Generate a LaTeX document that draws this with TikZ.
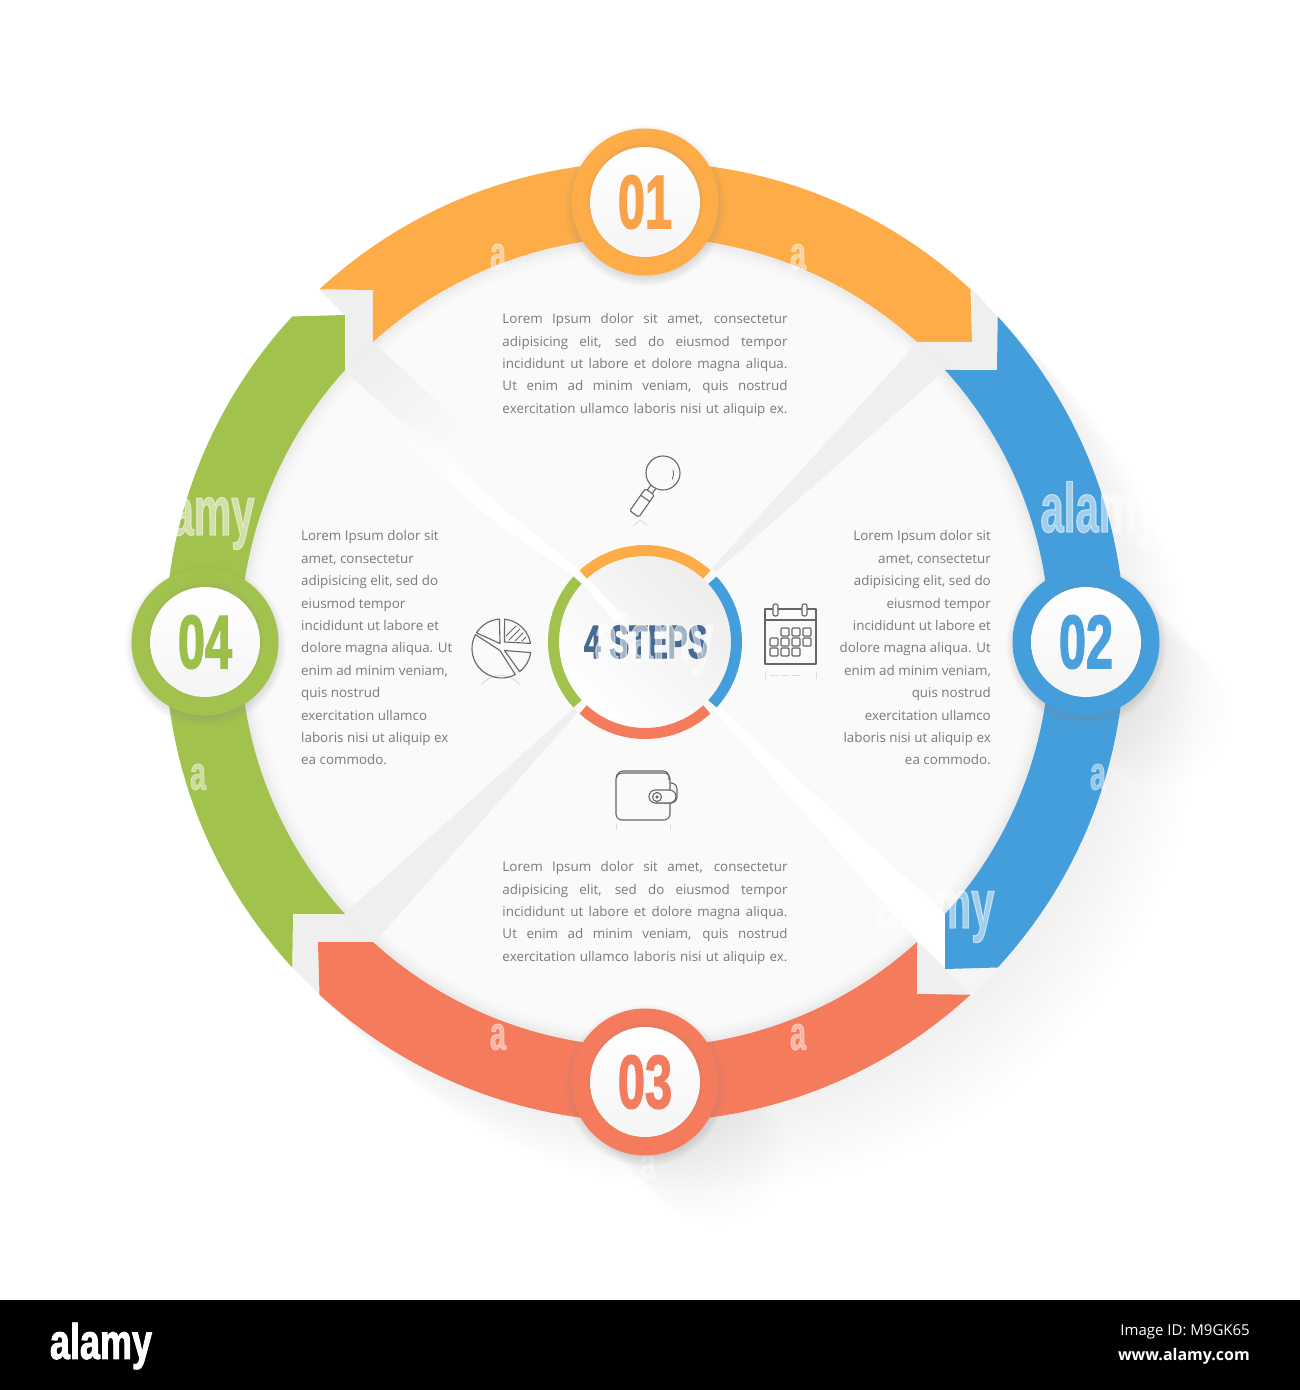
\documentclass[tikz,border=0pt]{standalone}
\usepackage{fontspec}
\setmainfont{Open Sans}
\newfontfamily\stepfont[FakeStretch=0.64,FakeBold=1.6]{Liberation Sans}
\newfontfamily\markfont[FakeStretch=0.6,FakeBold=1.6]{Liberation Sans}
\newfontfamily\logofont[FakeStretch=0.72,FakeBold=1.8]{Liberation Sans}
\usetikzlibrary{shadows,fadings}
\definecolor{stepOrange}{HTML}{FDAC48}
\definecolor{stepBlue}{HTML}{459EDC}
\definecolor{stepRed}{HTML}{F57B5D}
\definecolor{stepGreen}{HTML}{A2C24E}
\definecolor{numOrange}{HTML}{F9A24A}
\definecolor{numBlue}{HTML}{4A9FDD}
\definecolor{numRed}{HTML}{F47C5E}
\definecolor{numGreen}{HTML}{9CBF4A}
\definecolor{diskgray}{HTML}{FAFAFA}
\definecolor{gapgray}{HTML}{EFEFEF}
\definecolor{bodytext}{HTML}{7A7A7A}
\definecolor{iconline}{HTML}{666666}
\definecolor{titleblue}{HTML}{476A90}
\newcommand{\bandpath}{(132.7:480) arc[start angle=132.7,end angle=47.3,radius=480] -- (327,300) -- (47.8:405) arc[start angle=47.8,end angle=132.2,radius=405] -- (-272,352) -- cycle}
\newcommand{\jline}[1]{\makebox[285pt][s]{#1}}
\tikzset{%
  badgering/.style = {%
    circle,
    inner sep=0pt,
    minimum size=147pt,
    circular drop shadow={shadow xshift=0pt, shadow yshift=-3pt, shadow scale=1.1, opacity=0.3}},
  badgedisc/.style = {%
    circle,
    inner sep=0pt,
    minimum size=110pt,
    top color=white,
    bottom color=white!96!black,
    circular drop shadow={shadow xshift=0pt, shadow yshift=2pt, shadow scale=1.06, opacity=0.3}},
  badgenum/.style = {%
    inner sep=0pt,
    font=\stepfont\bfseries\fontsize{76}{76}\selectfont},
  bodyblock/.style = {%
    inner sep=0pt,
    text=bodytext,
    font=\fontsize{13.4}{22.4}\selectfont},
  iconstroke/.style = {%
    draw=iconline,
    line width=1.1pt,
    line join=round},
  iconmirror/.style = {%
    draw=iconline,
    line width=0.9pt,
    opacity=0.2},
  markword/.style = {%
    inner sep=0pt,
    text=white,
    text opacity=0.5,
    font=\markfont\bfseries\fontsize{70}{70}\selectfont},
  markletter/.style = {%
    inner sep=0pt,
    text=white,
    text opacity=0.45,
    font=\markfont\bfseries\fontsize{48}{48}\selectfont}}
\begin{document}
\begin{tikzpicture}[x=1pt,y=1pt]

\useasboundingbox (-645,-748) rectangle (655,642);
\fill[white] (-645,-748) rectangle (655,642);

% long shadow
\foreach \k in {1,...,14} {
  \fill[black, opacity=0.005] (5*\k,-5*\k) circle (479);
  \fill[black, opacity=0.005] (441+5*\k,-5*\k) circle (73);
  \fill[black, opacity=0.005] (5*\k,-440-5*\k) circle (73);
}

\fill[white] (0,0) circle (480);
\fill[diskgray] (0,0) circle (408);

% soft edge under the bands
\draw[black, opacity=0.012, line width=26pt] (0,0) circle (404);
\draw[black, opacity=0.012, line width=18pt] (0,0) circle (404);
\draw[black, opacity=0.014, line width=11pt] (0,0) circle (404);
\draw[black, opacity=0.018, line width=5pt] (0,0) circle (404);

% gaps and stripes
\fill[gapgray] (326,354) -- (353,325) -- (354,273) -- (301,273) -- (273,300) -- (327,300) -- cycle;
\fill[gapgray] (-325,352) -- (-272,352) -- (-272,300) -- (-299,270) -- (-299,326) -- cycle;
\fill[gapgray] (-352,-273) -- (-302,-273) -- (-271,-301) -- (-326,-301) -- (-325,-353) -- (-352,-326) -- cycle;
\fill[white] (67,-66) -- (71,-62) -- (301,-273) -- (301,-326) -- (274,-301) -- cycle;
\fill[gapgray] (274,-301) -- (273,-353) -- (326,-353) -- (300,-326) -- cycle;
\fill[black!4] (300,-326) -- (355,-326) -- (326,-353) -- cycle;
\fill[gapgray] (273,300) -- (301,273) -- (71,70) -- (67,74) -- cycle;
\fill[gapgray] (-302,-273) -- (-271,-301) -- (-67,-70) -- (-71,-66) -- cycle;
\fill[gapgray, path fading=east, fading angle=-45] (-272,300) -- (-299,270) -- (-205,186) -- (-178,214) -- cycle;
\fill[white, path fading=west, fading angle=-45] (-262,258) -- (-262,215) -- (-150,120) -- (-150,140) -- cycle;
\fill[white] (-150,140) -- (-150,120) -- (-65,62) -- (-62,69) -- cycle;

% arrow bands
\fill[stepOrange] \bandpath;
\fill[stepBlue, rotate=-90] \bandpath;
\fill[stepRed, rotate=180] \bandpath;
\fill[stepGreen, rotate=90] \bandpath;

% watermark
\node[markword] (markleft) at (-450,125) {alamy};
\node[markword] (markright) at (455,128) {alamy};
\node[markword] (marklower) at (290,-268) {alamy};
\node[markletter] (marka1) at (-147,385) {a};
\node[markletter] (marka2) at (153,385) {a};
\node[markletter] (marka3) at (3,507) {a};
\node[markletter] (marka4) at (-447,-135) {a};
\node[markletter] (marka5) at (453,-135) {a};
\node[markletter] (marka6) at (-147,-395) {a};
\node[markletter] (marka7) at (153,-395) {a};
\node[markletter] (marka8) at (3,-525) {a};

% step badges
\node[badgering, fill=stepOrange] (ring1) at (0,440) {};
\node[badgedisc] (disc1) at (ring1) {};
\node[badgenum, text=numOrange] (num1) at (ring1) {01};

\node[badgering, fill=stepBlue] (ring2) at (441,0) {};
\node[badgedisc] (disc2) at (ring2) {};
\node[badgenum, text=numBlue] (num2) at (ring2) {02};

\node[badgering, fill=stepRed] (ring3) at (0,-440) {};
\node[badgedisc] (disc3) at (ring3) {};
\node[badgenum, text=numRed] (num3) at (ring3) {03};

\node[badgering, fill=stepGreen] (ring4) at (-440,0) {};
\node[badgedisc] (disc4) at (ring4) {};
\node[badgenum, text=numGreen] (num4) at (ring4) {04};

% text blocks
\node[bodyblock, align=left] (texttop) at (0,277) {%
  \jline{Lorem Ipsum dolor sit amet, consectetur}\\
  \jline{adipisicing elit, sed do eiusmod tempor}\\
  \jline{incididunt ut labore et dolore magna aliqua.}\\
  \jline{Ut enim ad minim veniam, quis nostrud}\\
  \jline{exercitation ullamco laboris nisi ut aliquip ex.}};
\node[bodyblock, align=left] (textbottom) at (0,-271) {%
  \jline{Lorem Ipsum dolor sit amet, consectetur}\\
  \jline{adipisicing elit, sed do eiusmod tempor}\\
  \jline{incididunt ut labore et dolore magna aliqua.}\\
  \jline{Ut enim ad minim veniam, quis nostrud}\\
  \jline{exercitation ullamco laboris nisi ut aliquip ex.}};
\node[bodyblock, align=left, anchor=west] (textleft) at (-344,-6) {%
  Lorem Ipsum dolor sit\\amet, consectetur\\adipisicing elit, sed do\\eiusmod tempor\\
  incididunt ut labore et\\dolore magna aliqua. Ut\\enim ad minim veniam,\\quis nostrud\\
  exercitation ullamco\\laboris nisi ut aliquip ex\\ea commodo.};
\node[bodyblock, align=right, anchor=east] (textright) at (346,-6) {%
  Lorem Ipsum dolor sit\\amet, consectetur\\adipisicing elit, sed do\\eiusmod tempor\\
  incididunt ut labore et\\dolore magna aliqua. Ut\\enim ad minim veniam,\\quis nostrud\\
  exercitation ullamco\\laboris nisi ut aliquip ex\\ea commodo.};

% magnifier icon
\begin{scope}[shift={(18,169)}, rotate=235]
  \draw[iconstroke] (0,0) circle (17);
  \draw[iconstroke] (17,-3) -- (23,-3) (17,3) -- (23,3);
  \draw[iconstroke, rounded corners=1.5pt] (23,-5.5) rectangle (50,5.5);
  \draw[iconstroke] (31,-5.5) -- (31,5.5);
\end{scope}
\draw[iconstroke, line width=0.8pt] (28,172) arc[start angle=20,end angle=-30,radius=11];
\draw[iconmirror] (-12,116) -- (-5,122) -- (2,117);

% pie icon
\begin{scope}[shift={(-143.5,-6.5)}]
  \draw[iconstroke] (-1.5,5) -- (94:29.5) arc[start angle=94,end angle=148,radius=29.5] -- cycle;
  \draw[iconstroke] (3,6.5) -- (84:29.5) arc[start angle=84,end angle=10,radius=29.5] -- cycle;
  \draw[iconstroke] (3,-2) -- (-8:29.5) arc[start angle=-8,end angle=-52,radius=29.5] -- cycle;
  \draw[iconstroke] (-1.5,-2) -- (-62:29.5) arc[start angle=-62,end angle=-208,radius=29.5] -- cycle;
  \begin{scope}
    \clip (5,8.5) -- (83:27) arc[start angle=83,end angle=14,radius=27] -- cycle;
    \foreach \h in {-6,1,8,15,22,29} {
      \draw[iconline, line width=0.8pt] (\h-8,-6) -- (\h+28,30);
    }
  \end{scope}
  \draw[iconmirror] (-20,-36) arc[start angle=140,end angle=40,radius=25];
\end{scope}

% calendar icon
\begin{scope}[shift={(120,33)}]
  \draw[iconstroke] (0,0) rectangle (51,-55);
  \draw[iconstroke] (0,-11) -- (51,-11);
  \draw[iconstroke, fill=diskgray, rounded corners=2pt] (8,5) rectangle (13,-7);
  \draw[iconstroke, fill=diskgray, rounded corners=2pt] (37,5) rectangle (42,-7);
  \foreach \cellx/\celly in {16/-19,27/-19,38/-19,5/-29,16/-29,27/-29,38/-29,5/-39,16/-39,27/-39} {
    \draw[iconstroke, rounded corners=1pt] (\cellx,\celly) rectangle ++(8,-8);
  }
  \draw[iconmirror] (0,-63) -- (0,-70) (51,-63) -- (51,-70) (5,-66) -- (13,-66) (16,-66) -- (24,-66) (27,-66) -- (35,-66);
\end{scope}

% wallet icon
\begin{scope}[shift={(-29,-132)}]
  \draw[iconstroke, rounded corners=6pt] (0,-46) rectangle (54,1);
  \draw[iconstroke, rounded corners=6pt] (1,0) -- (1,3) -- (53,3) -- (53,-6);
  \draw[iconstroke, rounded corners=6pt] (54,-9) -- (61,-9) -- (61,-29) -- (40,-29);
  \draw[iconstroke, fill=diskgray, rounded corners=6.5pt] (33,-16) rectangle (60,-29);
  \draw[iconstroke] (41,-23) circle (4.5);
  \draw[iconstroke] (41,-23) circle (1.2);
  \draw[iconmirror] (0,-50) -- (0,-56) (54,-50) -- (54,-56);
\end{scope}

% center disk
\node[circle, inner sep=0pt, minimum size=172pt, left color=white!93!black, middle color=white, right color=white, shading angle=-45] (centerdisk) at (0,0) {};
\fill[white] (-65,62) -- (-62,69) -- (-22,25) -- (-30,20) -- cycle;
\draw[stepOrange, line width=11pt] (47.5:91.5) arc[start angle=47.5,end angle=132.5,radius=91.5];
\draw[stepBlue, line width=11pt] (-42.5:91.5) arc[start angle=-42.5,end angle=42.5,radius=91.5];
\draw[stepRed, line width=11pt] (-132.5:91.5) arc[start angle=-132.5,end angle=-47.5,radius=91.5];
\draw[stepGreen, line width=11pt] (137.5:91.5) arc[start angle=137.5,end angle=222.5,radius=91.5];
\node[inner sep=0pt, text=titleblue, font=\stepfont\bfseries\fontsize{47}{47}\selectfont] (title) at (1,0) {4 STEPS};
\node[markword] (markcenter) at (9,-2) {alamy};

% footer
\fill[black] (-645,-748) rectangle (655,-658);
\node[inner sep=0pt, text=white, font=\logofont\bfseries\fontsize{50}{50}\selectfont] (logo) at (-544,-704) {alamy};
\node[inner sep=0pt, anchor=east, text=white, font=\fontsize{15}{15}\selectfont] (imageid) at (605,-690) {Image ID: M9GK65};
\node[inner sep=0pt, anchor=east, text=white, font=\bfseries\fontsize{16}{16}\selectfont] (website) at (605,-714) {www.alamy.com};

\end{tikzpicture}
\end{document}
